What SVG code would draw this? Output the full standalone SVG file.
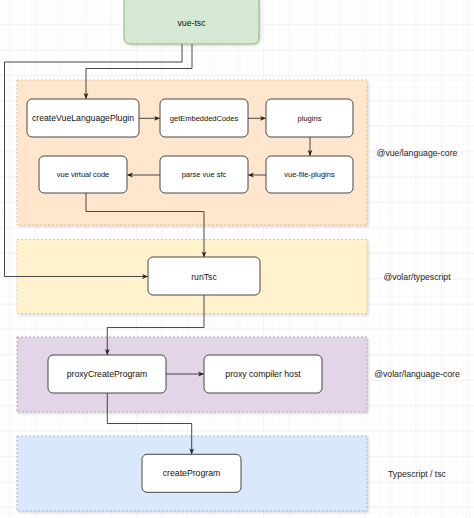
<svg xmlns="http://www.w3.org/2000/svg" width="474" height="518" viewBox="0 0 474 518">
<defs>
<pattern id="minor" x="9" y="-1" width="6.35" height="6.35" patternUnits="userSpaceOnUse">
<path d="M0 0H6.35M0 0V6.35" fill="none" stroke="#f1f1f1" stroke-width="0.7"/>
</pattern>
<pattern id="major" x="9" y="-1" width="25.4" height="25.4" patternUnits="userSpaceOnUse">
<rect width="25.4" height="25.4" fill="url(#minor)"/>
<path d="M0 0H25.4M0 0V25.4" fill="none" stroke="#e4e4e4" stroke-width="0.8"/>
</pattern>
<marker id="arr" viewBox="0 0 10 10" refX="9" refY="5" markerWidth="6" markerHeight="6" orient="auto" markerUnits="userSpaceOnUse">
<path d="M0 1L10 5L0 9L2.5 5Z" fill="#222"/>
</marker>
<filter id="sh" x="-5%" y="-5%" width="110%" height="115%">
<feDropShadow dx="1.5" dy="1.5" stdDeviation="1" flood-color="#000" flood-opacity="0.15"/>
</filter>
</defs>
<style>
.node{fill:#fff;stroke:#333;stroke-width:0.9}
.cont{stroke-width:0.9;stroke-dasharray:2 2;filter:url(#sh)}
.t{font-family:"Liberation Sans",Arial,sans-serif;font-size:8.7px;fill:#111;text-anchor:middle;dominant-baseline:central}
.s{font-size:7.5px}
.lbl{font-family:"Liberation Sans",Arial,sans-serif;font-size:8.7px;fill:#222;text-anchor:middle;dominant-baseline:central}
.c{fill:none;stroke:#333;stroke-width:0.9}
</style>
<rect width="474" height="518" fill="#fff"/>
<rect width="474" height="518" fill="url(#major)"/>

<g id="containers">
<rect id="lang-core" class="cont" x="17" y="80" width="350" height="145" fill="#ffe6cc" stroke="#e8b878"/>
<rect id="volar-ts" class="cont" x="17" y="239.5" width="350" height="74" fill="#fff2cc" stroke="#e0cc80"/>
<rect id="volar-lc" class="cont" x="17" y="337" width="350" height="75" fill="#e1d5e7" stroke="#b29cc0"/>
<rect id="tsc" class="cont" x="17" y="436" width="350" height="75" fill="#dae8fc" stroke="#9ab2d6"/>
</g>

<g id="labels">
<text class="lbl" x="417" y="153">@vue/language-core</text>
<text class="lbl" x="417" y="277">@volar/typescript</text>
<text class="lbl" x="417" y="374">@volar/language-core</text>
<text class="lbl" x="417" y="473.5">Typescript / tsc</text>
</g>

<g id="connectors">
<path class="c" d="M182 44V62H4.5V276.5H147.5" marker-end="url(#arr)"/>
<path class="c" d="M192 44V68.5H86V98.5" marker-end="url(#arr)"/>
<path class="c" d="M139 118.3H159.5" marker-end="url(#arr)"/>
<path class="c" d="M248 118.3H265.5" marker-end="url(#arr)"/>
<path class="c" d="M310 137V155.5" marker-end="url(#arr)"/>
<path class="c" d="M266 175H248.5" marker-end="url(#arr)"/>
<path class="c" d="M160 175H127.5" marker-end="url(#arr)"/>
<path class="c" d="M86 193V211.5H204V256.8" marker-end="url(#arr)"/>
<path class="c" d="M204 295V327.5H107.3V354.5" marker-end="url(#arr)"/>
<path class="c" d="M166 374H203.5" marker-end="url(#arr)"/>
<path class="c" d="M107.3 393V423.5H191.7V453.8" marker-end="url(#arr)"/>
</g>

<g id="vue-tsc">
<rect x="124" y="-5" width="135" height="49" rx="6" fill="#d5e8d4" stroke="#82b366" stroke-width="0.9" filter="url(#sh)"/>
<text class="t" x="191.5" y="22.5">vue-tsc</text>
</g>
<g id="createVueLanguagePlugin">
<rect class="node" x="27" y="99" width="112" height="38" rx="5"/>
<text class="t" x="83" y="118">createVueLanguagePlugin</text>
</g>
<g id="getEmbeddedCodes">
<rect class="node" x="160" y="99" width="88" height="38" rx="5"/>
<text class="t s" x="204" y="118">getEmbeddedCodes</text>
</g>
<g id="plugins">
<rect class="node" x="266" y="99" width="87" height="38" rx="5"/>
<text class="t s" x="309.5" y="118">plugins</text>
</g>
<g id="vue-file-plugins">
<rect class="node" x="266" y="156" width="87" height="37" rx="5"/>
<text class="t s" x="309.5" y="174.5">vue-file-plugins</text>
</g>
<g id="parse-vue-sfc">
<rect class="node" x="160" y="156" width="88" height="37" rx="5"/>
<text class="t s" x="204" y="174.5">parse vue sfc</text>
</g>
<g id="vue-virtual-code">
<rect class="node" x="39" y="156" width="88" height="37" rx="5"/>
<text class="t s" x="83" y="174.5">vue virtual code</text>
</g>
<g id="runTsc">
<rect class="node" x="148" y="257" width="112" height="38" rx="5"/>
<text class="t" x="204" y="276.5">runTsc</text>
</g>
<g id="proxyCreateProgram">
<rect class="node" x="48" y="355" width="118" height="38" rx="5"/>
<text class="t" x="107" y="374">proxyCreateProgram</text>
</g>
<g id="proxy-compiler-host">
<rect class="node" x="204" y="355" width="118" height="38" rx="5"/>
<text class="t" x="263" y="374">proxy compiler host</text>
</g>
<g id="createProgram">
<rect class="node" x="142" y="454.3" width="99" height="38" rx="5"/>
<text class="t" x="191.5" y="473.3">createProgram</text>
</g>
</svg>
